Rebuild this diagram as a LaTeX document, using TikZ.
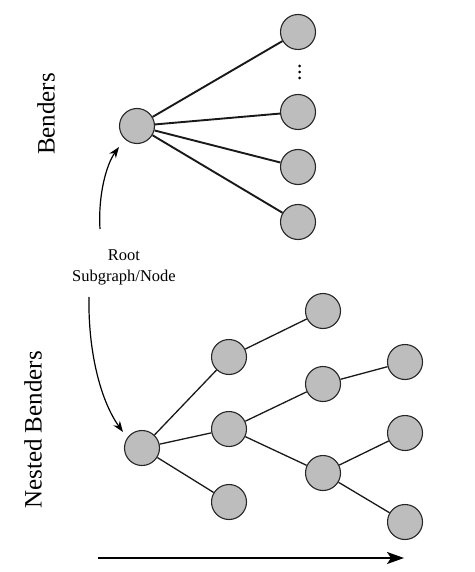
\documentclass[tikz,border=0pt]{standalone}
\usepackage{fontspec}
\setmainfont{Liberation Serif}
\usetikzlibrary{arrows.meta}
\begin{document}
\begin{tikzpicture}[x=1pt,y=-1pt,
  vertex/.style={circle,draw=black!85,fill=black!26,line width=1.1pt,minimum size=35pt,inner sep=0pt},
  thickedge/.style={line width=1.9pt,black!90},
  thinedge/.style={line width=1.3pt,black!90},
  curved/.style={line width=1.2pt,-{Stealth[length=11pt,width=8pt]}},
  sidelabel/.style={rotate=90,font=\fontsize{25}{30}\selectfont,inner sep=0pt}]
\useasboundingbox (0,0) rectangle (474,572);

% single-level decomposition
\node[vertex] (r1) at (137,126) {};
\node[vertex] (t1) at (298,32) {};
\node[vertex] (t2) at (298,112) {};
\node[vertex] (t3) at (298,167) {};
\node[vertex] (t4) at (298,222) {};
\foreach \n in {t1,t2,t3,t4} \draw[thickedge] (r1) -- (\n);
\foreach \yy in {66,72,78} \fill (299.5,\yy) circle (1.5pt);

% multi-level tree
\node[vertex] (r2) at (142,448) {};
\node[vertex] (a1) at (229,357) {};
\node[vertex] (a2) at (229,429) {};
\node[vertex] (a3) at (229,502) {};
\node[vertex] (b1) at (323,311) {};
\node[vertex] (b2) at (323,384) {};
\node[vertex] (b3) at (323,473) {};
\node[vertex] (c1) at (405,362) {};
\node[vertex] (c2) at (405,433) {};
\node[vertex] (c3) at (405,522) {};
\draw[thinedge] (r2) -- (a1) (r2) -- (a2) (r2) -- (a3)
  (a1) -- (b1) (a2) -- (b2) (a2) -- (b3)
  (b2) -- (c1) (b3) -- (c2) (b3) -- (c3);

% side labels
\node[sidelabel] (lb1) at (46,114) {Benders};
\node[sidelabel] (lb2) at (33,430) {Nested Benders};

% root label and pointers
\node[align=center,font=\fontsize{16.5}{21}\selectfont,inner sep=0pt] (root) at (124,267) {Root\\Subgraph/Node};
\coordinate (p1) at (100,229);
\coordinate (p2) at (89,297);
\draw[curved] (p1) .. controls (98,196) and (106,165) .. (119,147);
\draw[curved] (p2) .. controls (88,350) and (100,400) .. (123,432);

% progression axis
\coordinate (ax0) at (98,558);
\coordinate (ax1) at (404,558);
\draw[line width=2pt,-{Stealth[length=17pt,width=12pt,inset=4pt]}] (ax0) -- (ax1);
\end{tikzpicture}
\end{document}
